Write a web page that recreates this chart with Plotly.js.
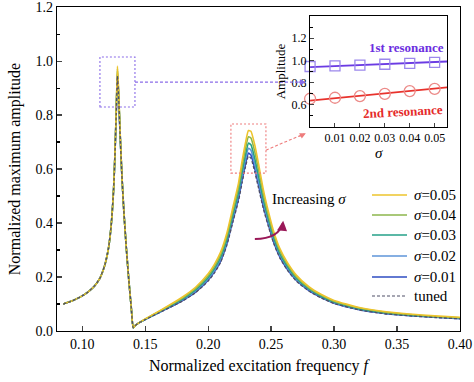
<!DOCTYPE html>
<html><head><meta charset="utf-8">
<script src="https://cdn.plot.ly/plotly-3.0.1.min.js"></script>
<style>html,body{margin:0;padding:0;background:#fff}#chart{width:474px;height:382px}</style>
</head><body><div id="chart"></div>
<script>
// Normalized excitation frequency f
const freq = [0.085,0.09,0.095,0.10,0.105,0.11,0.114,0.118,0.121,0.123,0.125,0.126,0.127,0.128,0.129,0.130,0.1315,0.133,0.135,0.137,0.139,0.1405,0.142,0.145,0.15,0.16,0.17,0.18,0.19,0.20,0.205,0.21,0.215,0.22,0.224,0.227,0.23,0.232,0.234,0.237,0.24,0.244,0.248,0.252,0.257,0.263,0.27,0.28,0.29,0.30,0.32,0.34,0.36,0.38,0.40];
const ampTuned = [0.100,0.108,0.118,0.130,0.146,0.168,0.195,0.245,0.31,0.39,0.53,0.65,0.80,0.945,0.86,0.74,0.58,0.45,0.31,0.19,0.085,0.012,0.02,0.03,0.042,0.065,0.088,0.112,0.142,0.185,0.215,0.255,0.32,0.41,0.48,0.55,0.615,0.648,0.64,0.59,0.53,0.45,0.385,0.325,0.27,0.225,0.185,0.148,0.122,0.102,0.078,0.064,0.056,0.050,0.045];
const ampS01 = [0.100,0.108,0.118,0.130,0.146,0.168,0.195,0.245,0.31,0.39,0.53,0.651,0.801,0.949,0.862,0.741,0.58,0.45,0.31,0.19,0.085,0.012,0.02,0.03,0.042,0.066,0.089,0.114,0.144,0.188,0.219,0.260,0.325,0.417,0.488,0.56,0.626,0.659,0.652,0.602,0.541,0.458,0.392,0.330,0.274,0.228,0.188,0.150,0.124,0.103,0.079,0.065,0.057,0.051,0.046];
const ampS02 = [0.100,0.108,0.118,0.130,0.146,0.168,0.195,0.245,0.31,0.39,0.53,0.651,0.803,0.956,0.866,0.743,0.58,0.45,0.31,0.19,0.085,0.012,0.02,0.03,0.043,0.067,0.091,0.116,0.148,0.193,0.224,0.266,0.333,0.426,0.499,0.574,0.642,0.677,0.67,0.62,0.557,0.471,0.401,0.338,0.28,0.233,0.191,0.153,0.126,0.105,0.081,0.066,0.058,0.052,0.047];
const ampS03 = [0.100,0.108,0.118,0.130,0.146,0.168,0.195,0.245,0.31,0.39,0.53,0.652,0.805,0.964,0.87,0.745,0.58,0.45,0.31,0.19,0.085,0.012,0.02,0.03,0.043,0.068,0.093,0.119,0.152,0.198,0.231,0.274,0.342,0.437,0.512,0.59,0.66,0.696,0.69,0.64,0.575,0.485,0.412,0.347,0.287,0.239,0.196,0.156,0.128,0.107,0.082,0.068,0.059,0.053,0.048];
const ampS04 = [0.100,0.108,0.118,0.130,0.146,0.168,0.195,0.245,0.31,0.39,0.53,0.654,0.808,0.973,0.875,0.748,0.58,0.45,0.31,0.19,0.085,0.012,0.02,0.03,0.044,0.070,0.096,0.123,0.157,0.205,0.239,0.284,0.354,0.451,0.529,0.61,0.683,0.72,0.715,0.665,0.598,0.503,0.426,0.359,0.296,0.246,0.201,0.160,0.132,0.110,0.085,0.070,0.061,0.054,0.049];
const ampS05 = [0.100,0.108,0.118,0.130,0.146,0.168,0.195,0.245,0.31,0.39,0.53,0.655,0.81,0.982,0.88,0.75,0.58,0.45,0.31,0.19,0.085,0.012,0.02,0.03,0.045,0.071,0.098,0.127,0.162,0.212,0.247,0.293,0.365,0.465,0.545,0.63,0.705,0.743,0.74,0.69,0.62,0.52,0.44,0.37,0.305,0.253,0.207,0.164,0.135,0.113,0.087,0.072,0.063,0.056,0.051];
const seriesNames = ['<i>σ</i>=0.05','<i>σ</i>=0.04','<i>σ</i>=0.03','<i>σ</i>=0.02','<i>σ</i>=0.01','tuned'];
// inset
const sigma = [0,0.01,0.02,0.03,0.04,0.05];
const res1 = [0.945,0.950,0.958,0.965,0.973,0.982];
const res2 = [0.654,0.663,0.678,0.698,0.723,0.743];
const fitSigma = [0,0.055];
const fit1 = [0.940,0.990];
const fit2 = [0.637,0.757];
const xTicks = [0.10,0.15,0.20,0.25,0.30,0.35,0.40];
const yTicks = [0.0,0.2,0.4,0.6,0.8,1.0,1.2];

const F = '"Liberation Serif", serif';
const colors = ['#EDC42C','#8DB64C','#24A189','#5E95D8','#2E4DC2','#4E4E66'];
const ys = [ampS05,ampS04,ampS03,ampS02,ampS01,ampTuned];
const drawOrder = [4,3,2,1,0,5];
const traces = drawOrder.map(i=>({
  x: freq, y: ys[i], type:'scatter', mode:'lines', name: seriesNames[i], showlegend:false,
  line:{color:colors[i], width: i===5?1.3:1.6, dash: i===5?'3px,2px':'solid', shape:'spline', smoothing:0.5},
  xaxis:'x', yaxis:'y'
}));
traces.push({x:fitSigma,y:fit1,type:'scatter',mode:'lines',line:{color:'#6B3BE3',width:1.8},xaxis:'x2',yaxis:'y2',showlegend:false});
traces.push({x:fitSigma,y:fit2,type:'scatter',mode:'lines',line:{color:'#E8322C',width:1.8},xaxis:'x2',yaxis:'y2',showlegend:false});
traces.push({x:sigma,y:res1,type:'scatter',mode:'markers',marker:{symbol:'square-open',size:10,color:'#9C88EC',line:{width:1.3}},xaxis:'x2',yaxis:'y2',showlegend:false,cliponaxis:false});
traces.push({x:sigma,y:res2,type:'scatter',mode:'markers',marker:{symbol:'circle-open',size:11,color:'#EC8A88',line:{width:1.3}},xaxis:'x2',yaxis:'y2',showlegend:false,cliponaxis:false});

// manual legend (paper coords)
const legY = [0.4198,0.358,0.2963,0.2315,0.1667,0.108];
const legShapes = seriesNames.map((n,i)=>({type:'line',xref:'paper',yref:'paper',x0:0.7816,x1:0.8685,y0:legY[i],y1:legY[i],
  line:{color:colors[i],width:i===5?1.2:1.6,dash:i===5?'3px,2px':'solid'}}));
const legAnn = seriesNames.map((n,i)=>({xref:'paper',yref:'paper',x:0.8809,y:legY[i],xanchor:'left',yanchor:'middle',showarrow:false,
  text:n,font:{family:F,size:15,color:'#000'}}));

const layout = {
  width:474, height:382,
  margin:{l:57,r:14,t:7,b:51},
  paper_bgcolor:'#fff', plot_bgcolor:'#fff',
  font:{family:F,color:'#000',size:14},
  showlegend:false,
  xaxis:{domain:[0,1],range:[0.08,0.40],tickvals:xTicks,ticktext:xTicks.map(v=>v.toFixed(2)),ticks:'inside',ticklen:5,tickwidth:1.2,
    showline:true,linecolor:'#000',linewidth:1.3,mirror:true,showgrid:false,zeroline:false,
    tickfont:{family:F,size:14},
    title:{text:'Normalized excitation frequency <i>f</i>',font:{family:F,size:16},standoff:8}},
  yaxis:{domain:[0,1],range:[0,1.2005],tickvals:yTicks,ticktext:yTicks.map(v=>v.toFixed(1)),ticks:'inside',ticklen:5,tickwidth:1.2,
    minor:{dtick:0.1,ticks:'inside',ticklen:3,tickcolor:'#000',showgrid:false},
    showline:true,linecolor:'#000',linewidth:1.3,mirror:true,showgrid:false,zeroline:false,
    tickfont:{family:F,size:14},
    title:{text:'Normalized maximum amplitude',font:{family:F,size:16},standoff:10}},
  xaxis2:{domain:[0.628,0.968],anchor:'y2',range:[0,0.055],tickvals:[0.01,0.02,0.03,0.04,0.05],ticks:'inside',ticklen:4,
    showline:true,linecolor:'#000',linewidth:1.2,mirror:true,showgrid:false,zeroline:false,
    tickfont:{family:F,size:12},title:{text:'<i>σ</i>',font:{family:F,size:15},standoff:2}},
  yaxis2:{domain:[0.630,0.972],anchor:'x2',range:[0.4,1.4],tickvals:[0.6,0.8,1.0,1.2],ticktext:['0.6','0.8','1.0','1.2'],ticks:'inside',ticklen:4,
    minor:{tickvals:[0.5,0.7,0.9,1.1,1.3],ticks:'inside',ticklen:2.5,tickcolor:'#000'},
    showline:true,linecolor:'#000',linewidth:1.2,mirror:true,showgrid:false,zeroline:false,
    tickfont:{family:F,size:12},title:{text:'Amplitude',font:{family:F,size:13},standoff:3}},
  shapes:[
    {type:'rect',xref:'x',yref:'y',x0:0.1141,x1:0.1419,y0:0.83,y1:1.015,line:{color:'#8A6CE8',width:1.1,dash:'2px,2px'}},
    {type:'line',xref:'x',yref:'y',x0:0.1419,x1:0.2745,y0:0.922,y1:0.922,line:{color:'#8A6CE8',width:1.1,dash:'3px,2px'}},
    {type:'rect',xref:'x',yref:'y',x0:0.2181,x1:0.2459,y0:0.585,y1:0.767,line:{color:'#EE7C7C',width:1.1,dash:'2px,2px'}},
    {type:'line',xref:'x',yref:'y',x0:0.2459,x1:0.2745,y0:0.670,y1:0.727,line:{color:'#EE7C7C',width:1.1,dash:'3px,2px'}},
    {type:'path',xref:'x',yref:'y',path:'M 0.2371,0.3407 Q 0.2563,0.342 0.2594,0.400',line:{color:'#9A1858',width:2}}
  ].concat(legShapes),
  annotations:[
    {xref:'x',yref:'y',x:0.2776,y:0.922,ax:-9,ay:0,showarrow:true,arrowhead:2,arrowsize:1,arrowwidth:1.2,arrowcolor:'#8A6CE8',text:''},
    {xref:'x',yref:'y',x:0.2776,y:0.733,ax:-8,ay:4,showarrow:true,arrowhead:2,arrowsize:1,arrowwidth:1.2,arrowcolor:'#EE7C7C',text:''},
    {xref:'x',yref:'y',x:0.2596,y:0.4085,ax:-1,ay:9,showarrow:true,arrowhead:2,arrowsize:1,arrowwidth:2,arrowcolor:'#9A1858',text:''},
    {xref:'x',yref:'y',x:0.2495,y:0.489,xanchor:'left',yanchor:'middle',showarrow:false,text:'Increasing <i>σ</i>',font:{family:F,size:15,color:'#000'}},
    {xref:'x2',yref:'y2',x:0.0545,y:1.12,xanchor:'right',yanchor:'middle',showarrow:false,text:'<b>1st resonance</b>',font:{family:F,size:13,color:'#6B2EE0'}},
    {xref:'x2',yref:'y2',x:0.0545,y:0.535,xanchor:'right',yanchor:'middle',showarrow:false,textangle:-3,text:'<b>2nd resonance</b>',font:{family:F,size:13,color:'#E52A2A'}}
  ].concat(legAnn)
};
Plotly.newPlot('chart', traces, layout, {displayModeBar:false, staticPlot:true});
</script>
</body></html>
